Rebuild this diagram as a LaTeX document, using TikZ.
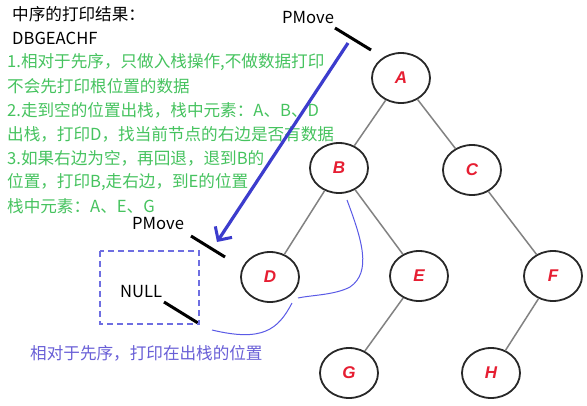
\documentclass[tikz,border=0pt]{standalone}
\usepackage{fontspec}
\setmainfont{Noto Sans CJK SC}
\newfontfamily\letterfont{Liberation Sans}
\usetikzlibrary{shapes.geometric,arrows.meta}
\definecolor{tgreen}{RGB}{70,195,95}
\definecolor{tblue}{RGB}{105,95,215}
\definecolor{arrowblue}{RGB}{60,60,205}
\definecolor{curveblue}{RGB}{90,90,230}
\definecolor{dashblue}{RGB}{110,110,225}
\definecolor{nodered}{RGB}{230,30,50}
\definecolor{nodeline}{RGB}{40,40,40}
\definecolor{edgegray}{RGB}{130,130,130}
\begin{document}
\begin{tikzpicture}[x=1pt,y=-1pt,
  tnode/.style={ellipse, draw=nodeline, line width=1.8pt, minimum width=58pt, minimum height=50pt, inner sep=0pt,
    font=\letterfont\bfseries\itshape\fontsize{17pt}{17pt}\selectfont, text=nodered},
  treeedge/.style={draw=edgegray, line width=1.5pt},
  txt/.style={anchor=west, inner sep=0pt, font=\fontsize{16.6pt}{16.6pt}\selectfont},
  marker/.style={line width=3pt, black},
  ptr/.style={line width=3.2pt, color=arrowblue, -{Straight Barb[length=10pt,width=20pt,line width=3pt]}},
  thin curve/.style={draw=curveblue, line width=1pt}
]
\useasboundingbox (0,0) rectangle (587,405);
\fill[white] (0,0) rectangle (587,405);

% tree nodes
\node[tnode] (A) at (401,78) {A};
\node[tnode] (B) at (339,168) {B};
\node[tnode] (C) at (472,170) {C};
\node[tnode] (D) at (270,277) {D};
\node[tnode] (E) at (419,276) {E};
\node[tnode] (F) at (553,276) {F};
\node[tnode] (G) at (349,373) {G};
\node[tnode] (H) at (491,373) {H};

\draw[treeedge] (A) -- (B);
\draw[treeedge] (A) -- (C);
\draw[treeedge] (B) -- (D);
\draw[treeedge] (B) -- (E);
\draw[treeedge] (C) -- (F);
\draw[treeedge] (E) -- (G);
\draw[treeedge] (F) -- (H);

% left text
\node[txt] (t0) at (12,14) {中序的打印结果：};
\node[txt] (t1) at (12,38) {DBGEACHF};
\node[txt, text=tgreen] (g1) at (7,62) {1.相对于先序，只做入栈操作,不做数据打印};
\node[txt, text=tgreen] (g2) at (7,86) {不会先打印根位置的数据};
\node[txt, text=tgreen] (g3) at (7,110) {2.走到空的位置出栈，栈中元素：A、B、D};
\node[txt, text=tgreen] (g4) at (7,134) {出栈，打印D，找当前节点的右边是否有数据};
\node[txt, text=tgreen] (g5) at (7,158) {3.如果右边为空，再回退，退到B的};
\node[txt, text=tgreen] (g6) at (7,182) {位置，打印B,走右边，到E的位置};
\node[txt, text=tgreen] (g7) at (7,206) {栈中元素：A、E、G};

% PMove labels and markers
\node[txt] (pm1) at (282,18) {PMove};
\node[txt] (pm2) at (132,224) {PMove};
\node[txt] (null) at (120,292) {NULL};

\coordinate (m1a) at (335,28);
\coordinate (m1b) at (371,50);
\coordinate (m2a) at (191,236);
\coordinate (m2b) at (225,257);
\coordinate (m3a) at (164,302);
\coordinate (m3b) at (198,323);
\draw[marker] (m1a) -- (m1b);
\draw[marker] (m2a) -- (m2b);
\draw[marker] (m3a) -- (m3b);

% blue arrow
\coordinate (arS) at (348,43);
\coordinate (arE) at (217,242);
\draw[ptr] (arS) -- (arE);

% dashed null box
\draw[dashblue, dashed, dash pattern=on 6pt off 4pt, line width=1.4pt] (100,251) rectangle (199,324);

% thin blue curve
\coordinate (c1) at (347,200);
\coordinate (c2) at (298,298);
\coordinate (c3) at (292,303);
\coordinate (c4) at (212,330);
\draw[thin curve] (c1) .. controls (362,240) and (372,272) .. (350,287) .. controls (335,295) and (312,295) .. (c2);
\draw[thin curve] (c3) .. controls (278,330) and (262,342) .. (c4);

% bottom note
\node[txt, text=tblue] (note) at (30,353) {相对于先序，打印在出栈的位置};
\end{tikzpicture}
\end{document}
